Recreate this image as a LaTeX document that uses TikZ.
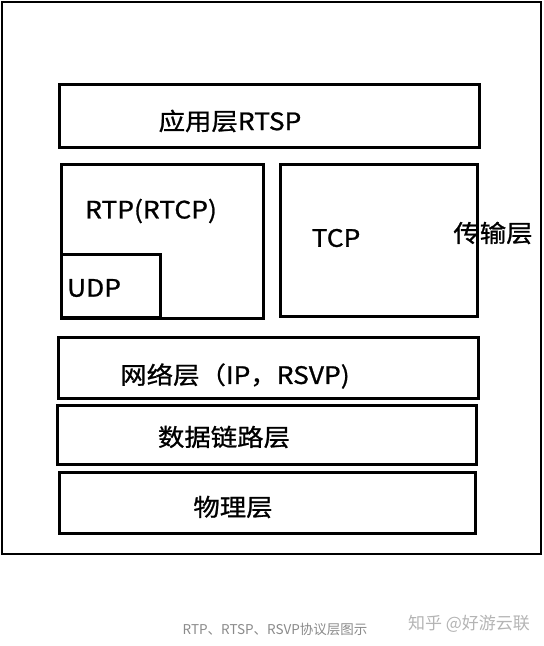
\documentclass[tikz,border=0pt]{standalone}
\usepackage{fontspec}
\newfontfamily\cjk{Noto Sans CJK SC}
\newfontfamily\cjkw[FakeStretch=1.1,FakeBold=1]{Noto Sans CJK SC}
\definecolor{capgray}{HTML}{8A8A8A}
\definecolor{wmgray}{HTML}{B4B4B4}
\begin{document}
\begin{tikzpicture}[x=1pt,y=-1pt,
  layer/.style={draw=black,line width=3pt,inner sep=0pt,anchor=north west},
  lbl/.style={font=\cjkw\fontsize{24}{24}\selectfont,inner sep=0pt},
  ]
\useasboundingbox (0,0) rectangle (544,646);
\node[draw=black,line width=2pt,inner sep=0pt,anchor=north west,minimum width=539pt,minimum height=552pt] (outer) at (1,1) {};
\node[layer,minimum width=420pt,minimum height=63pt] (app) at (58,83) {};
\node[layer,minimum width=202pt,minimum height=154pt] (rtp) at (60,163) {};
\node[layer,minimum width=99pt,minimum height=63pt] (udp) at (60,253) {};
\node[layer,minimum width=197pt,minimum height=152pt] (tcp) at (279,163) {};
\node[layer,minimum width=420pt,minimum height=61pt] (net) at (57,336) {};
\node[layer,minimum width=419pt,minimum height=59pt] (link) at (56,404) {};
\node[layer,minimum width=416pt,minimum height=61pt] (phy) at (58,471) {};
\node[lbl] (tapp) at (230,121) {应用层RTSP};
\node[lbl] (trtp) at (151,211) {RTP(RTCP)};
\node[lbl] (tudp) at (94,288) {UDP};
\node[lbl] (ttcp) at (336,238) {TCP};
\node[lbl] (ttrans) at (493,233) {传输层};
\node[lbl] (tnet) at (235,376) {网络层（IP，RSVP)};
\node[lbl] (tlink) at (224,437) {数据链路层};
\node[lbl] (tphy) at (233,507) {物理层};
\node[font=\cjk\fontsize{13.5}{13.5}\selectfont,text=capgray,inner sep=0pt] (cap) at (275,629) {RTP、RTSP、RSVP协议层图示};
\node[font=\cjk\fontsize{17}{17}\selectfont,text=wmgray,inner sep=0pt] (wm) at (469,624) {知乎 @好游云联};
\end{tikzpicture}
\end{document}
